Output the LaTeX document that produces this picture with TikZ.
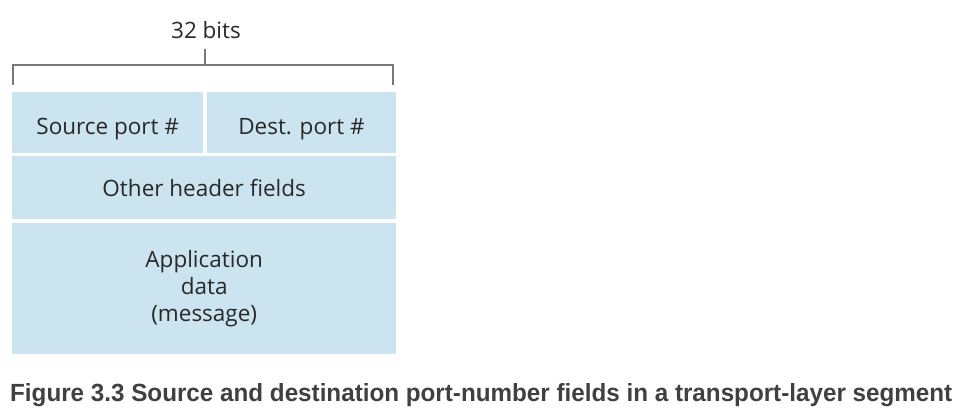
\documentclass[tikz,border=0pt]{standalone}
\usepackage{fontspec}
\usepackage{graphicx}
\newfontfamily\fieldfont{Open Sans}
\newfontfamily\capfont{Liberation Sans}
\definecolor{fieldblue}{RGB}{204,227,240}
\definecolor{fieldtext}{RGB}{40,40,40}
\definecolor{bracketgray}{RGB}{120,120,120}
\definecolor{captiongray}{RGB}{64,64,64}
\begin{document}
\begin{tikzpicture}[x=1pt,y=-1pt,
  field/.style={fill=fieldblue, inner sep=0pt, anchor=north west, text=fieldtext,
    font=\fieldfont\fontsize{22.5}{27}\selectfont, align=center},
  portfield/.style={field, minimum height=61pt, text height=24pt, text depth=0pt},
  bracket/.style={draw=bracketgray, line width=1.3pt}]
  \useasboundingbox (0,0) rectangle (966,416);
  % segment fields
  \node[portfield, minimum width=191pt] (srcport) at (12,92) {Source port \#};
  \node[portfield, minimum width=189.5pt] (dstport) at (206.5,92) {Dest. port \#};
  \node[field, minimum width=384pt, minimum height=63pt] (other) at (12,156) {Other header fields};
  \node[field, minimum width=384pt, minimum height=131pt] (appdata) at (12,223)
    {Application\\data\\(message)};
  % 32 bits bracket
  \coordinate (bl) at (13,85);
  \coordinate (br) at (393,85);
  \coordinate (bc) at (205,49);
  \draw[bracket] (bl) -- (bl |- 0,65) -- (br |- 0,65) -- (br);
  \draw[bracket] (bc) -- (bc |- 0,65);
  \node[anchor=base, inner sep=0pt, text=fieldtext,
    font=\fieldfont\fontsize{22.5}{27}\selectfont] (width) at (206,38) {32 bits};
  % caption
  \node[anchor=base west, inner sep=0pt, text=captiongray] (caption) at (10,401)
    {\resizebox{942pt}{18pt}{\capfont\bfseries Figure 3.3 Source and destination port-number fields in a transport-layer segment}};
\end{tikzpicture}
\end{document}
